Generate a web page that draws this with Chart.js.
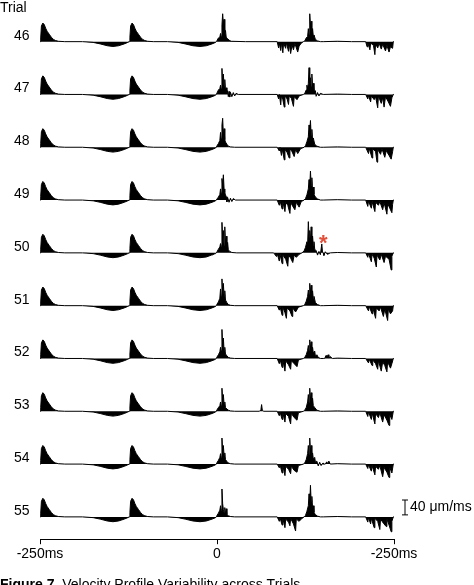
<!DOCTYPE html>
<html><head><meta charset="utf-8">
<script src="https://cdn.jsdelivr.net/npm/chart.js@4/dist/chart.umd.min.js"></script>
<style>html,body{margin:0;background:#fff}#w{width:474px;height:585px;position:relative}</style>
</head><body><div id="w"><canvas id="c"></canvas></div>
<script>
const trials = ["46","47","48","49","50","51","52","53","54","55"];
const xTickValues = [-250, 0, 250];
const xTickLabels = ["-250ms", "0", "-250ms"];
const trialSpacing = 142; // µm/ms between stacked baselines
// shared slow profile (ms, µm/ms)
const slowA = [[-250,0],[-249,10],[-248,42],[-246,50],[-244,46],[-242,36],[-240,28],[-237,20],[-234,12],[-231,6],[-228,3],[-224,1],[-215,0],[-190,0],[-175,-2],[-165,-6],[-155,-11],[-147,-13],[-139,-11],[-131,-6],[-126,-2],[-124,0],[-123,12],[-122,42],[-120,50],[-118,46],[-116,36],[-114,28],[-111,20],[-108,12],[-105,6],[-102,3],[-98,1],[-90,0],[-70,0],[-55,-2],[-45,-6],[-34,-11],[-24,-13],[-15,-11],[-7,-6],[-2,-2],[-1,0]];
const slowB = [[150,0],[170,1],[190,0],[210,0],[248,0],[250,0]];
const spikes46 = [[0,3],[2,10],[4,12],[5,22],[6,14],[7,45],[8,75],[9,50],[10,60],[11,25],[12,30],[13,12],[15,8],[17,4],[20,1],[40,0],[85,0],[87,-17],[88,-4],[90,-24],[91,-3],[93,-30],[94,-4],[97,-18],[98,-3],[101,-26],[102,-4],[104,-32],[106,-9],[108,-22],[110,-5],[114,-28],[116,-12],[119,-4],[122,0],[124,2],[126,10],[128,14],[129,35],[130,18],[131,75],[132,45],[133,55],[134,20],[135,35],[136,15],[137,18],[139,6],[142,2],[146,0]];
const spikesEnd46 = [[210,0],[212,-14],[213,-3],[216,-22],[217,-4],[221,-10],[223,-35],[224,-6],[227,-17],[229,-4],[232,-20],[234,-7],[238,-25],[240,-10],[243,-28],[245,-14],[248,-18],[249,0]];
const spikes47 = [[0,4],[2,12],[4,16],[5,25],[6,15],[7,70],[8,30],[9,55],[10,20],[11,40],[12,12],[13,18],[14,5],[15,10],[16,-6],[17,8],[18,-7],[19,6],[21,-6],[23,5],[25,-4],[27,3],[30,0],[85,0],[87,-12],[88,0],[90,-28],[91,-4],[93,-14],[95,-34],[96,-4],[99,-12],[101,-27],[102,-4],[105,-10],[108,-32],[109,-6],[113,-14],[116,-4],[122,0],[124,3],[126,12],[127,25],[128,15],[129,30],[130,72],[131,30],[132,45],[133,20],[134,55],[135,22],[136,30],[137,12],[139,10],[140,-5],[142,5],[144,-4],[146,3],[150,0]];
const spikesEnd47 = [[210,0],[213,-12],[214,-3],[217,-20],[218,-4],[222,-14],[224,-6],[227,-36],[228,-4],[232,-24],[234,-9],[236,-34],[238,-6],[242,-20],[245,-32],[247,-9],[249,0]];
const spikes48 = [[0,4],[2,10],[4,18],[5,40],[6,22],[7,60],[8,78],[9,35],[10,50],[11,20],[12,14],[14,8],[16,3],[19,1],[25,0],[85,0],[88,-10],[89,0],[91,-22],[92,-4],[95,-34],[96,-6],[99,-14],[102,-29],[103,-4],[106,-12],[109,-25],[111,-6],[114,-17],[118,-4],[123,0],[125,4],[127,15],[129,28],[130,60],[131,40],[132,72],[133,30],[134,48],[135,20],[136,25],[138,8],[141,3],[146,0]];
const spikesEnd48 = [[210,0],[214,-17],[215,-3],[219,-29],[220,-4],[224,-12],[226,-40],[227,-6],[231,-19],[233,-4],[237,-27],[239,-9],[243,-22],[246,-32],[248,-12],[249,0]];
const spikes49 = [[0,3],[2,8],[4,15],[5,30],[6,18],[7,58],[8,40],[9,68],[10,30],[11,20],[12,14],[13,9],[14,-5],[15,7],[17,-6],[19,5],[21,-4],[23,4],[26,0],[85,0],[88,-14],[89,-2],[92,-24],[93,-4],[96,-31],[97,-6],[100,-14],[103,-36],[104,-6],[107,-17],[110,-26],[112,-6],[116,-19],[119,-4],[123,0],[125,4],[127,14],[129,30],[130,55],[131,35],[132,78],[133,40],[134,60],[135,25],[136,35],[137,15],[139,8],[142,3],[146,0]];
const spikesEnd49 = [[210,0],[213,-17],[214,-3],[218,-22],[219,-4],[223,-31],[224,-6],[228,-14],[230,-4],[234,-26],[236,-7],[240,-38],[241,-9],[244,-22],[247,-34],[248,-12],[249,0]];
const spikes50 = [[-8,-6],[-4,-3],[0,3],[2,10],[4,16],[5,25],[6,18],[7,82],[8,40],[9,60],[10,20],[11,70],[12,25],[13,45],[14,12],[15,28],[16,8],[18,4],[21,1],[28,0],[80,0],[84,-10],[85,-2],[88,-22],[89,-4],[92,-29],[93,-6],[97,-17],[100,-36],[101,-6],[104,-14],[107,-26],[109,-6],[112,-12],[116,-4],[120,0],[123,5],[125,15],[127,30],[128,20],[129,84],[130,40],[131,60],[132,30],[133,70],[134,30],[135,45],[136,20],[137,30],[138,10],[140,6],[142,-6],[144,4],[146,-5],[148,24],[149,2],[151,-7],[153,3],[156,-4],[160,0]];
const spikesEnd50 = [[210,0],[213,-12],[214,-2],[218,-24],[219,-4],[222,-14],[225,-38],[226,-6],[230,-19],[232,-4],[236,-26],[238,-9],[243,-17],[246,-46],[247,-9],[249,0]];
const spikes51 = [[0,4],[2,10],[4,20],[5,45],[6,25],[7,72],[8,38],[9,60],[10,25],[11,40],[12,15],[14,8],[16,3],[19,1],[25,0],[85,0],[88,-12],[89,-2],[92,-26],[93,-4],[96,-19],[98,-34],[99,-6],[103,-14],[106,-29],[107,-6],[111,-17],[115,-4],[122,0],[124,3],[126,12],[128,25],[129,42],[130,30],[131,60],[132,35],[133,55],[134,25],[135,40],[136,18],[137,25],[139,8],[142,3],[146,0]];
const spikesEnd51 = [[210,0],[214,-14],[215,-2],[219,-22],[220,-4],[224,-34],[225,-6],[229,-14],[231,-4],[235,-29],[237,-9],[241,-40],[242,-9],[245,-22],[248,-14],[249,0]];
const spikes52 = [[0,4],[2,10],[4,18],[5,30],[6,20],[7,78],[8,35],[9,55],[10,20],[11,30],[12,12],[14,7],[16,3],[19,1],[25,0],[85,0],[88,-14],[89,-2],[92,-24],[93,-4],[96,-34],[97,-6],[101,-17],[104,-29],[105,-6],[109,-14],[113,-22],[115,-4],[122,0],[124,3],[126,10],[128,22],[129,35],[130,20],[131,50],[132,28],[133,45],[134,20],[135,30],[136,15],[138,20],[139,6],[141,10],[143,3],[146,0],[152,0],[154,8],[155,2],[157,10],[158,2],[160,5],[163,0]];
const spikesEnd52 = [[210,0],[214,-12],[215,-2],[219,-19],[220,-4],[224,-14],[227,-29],[228,-6],[232,-34],[234,-9],[237,-19],[240,-36],[241,-9],[245,-26],[247,-14],[249,0]];
const spikes53 = [[0,4],[2,10],[4,15],[5,25],[6,15],[7,62],[8,30],[9,45],[10,18],[11,25],[12,10],[14,6],[16,3],[19,1],[25,0],[60,0],[62,4],[63,18],[64,3],[66,0],[85,0],[88,-12],[89,-2],[92,-22],[93,-4],[96,-29],[97,-6],[101,-14],[104,-34],[105,-6],[109,-17],[113,-24],[115,-4],[122,0],[124,3],[126,10],[128,25],[129,45],[130,22],[131,62],[132,30],[133,50],[134,25],[135,35],[136,15],[138,10],[141,3],[146,0]];
const spikesEnd53 = [[210,0],[213,-14],[214,-2],[218,-22],[219,-4],[223,-34],[224,-6],[228,-17],[230,-4],[234,-29],[236,-9],[240,-24],[243,-38],[244,-9],[247,-22],[249,0]];
const spikes54 = [[0,4],[2,10],[4,18],[5,28],[6,18],[7,70],[8,35],[9,50],[10,22],[11,30],[12,12],[14,7],[16,3],[19,1],[25,0],[85,0],[88,-10],[89,-2],[92,-24],[93,-4],[96,-31],[97,-6],[101,-14],[104,-26],[105,-6],[109,-17],[113,-22],[115,-4],[122,0],[124,3],[126,12],[128,28],[129,50],[130,25],[131,70],[132,35],[133,50],[134,22],[135,30],[136,14],[138,18],[139,5],[141,8],[143,-5],[145,5],[147,-4],[150,3],[153,0],[155,6],[156,1],[158,8],[160,0]];
const spikesEnd54 = [[210,0],[213,-12],[214,-2],[218,-19],[219,-4],[223,-29],[224,-6],[228,-14],[230,-4],[234,-34],[236,-9],[240,-22],[243,-36],[244,-9],[247,-24],[249,0]];
const spikes55 = [[0,4],[2,10],[4,18],[5,30],[6,18],[7,75],[8,35],[9,20],[10,12],[11,25],[12,8],[13,22],[14,6],[16,3],[19,1],[25,0],[85,0],[88,-12],[89,-2],[92,-22],[93,-4],[96,-29],[97,-6],[101,-14],[103,-24],[104,-4],[108,-19],[111,-38],[112,-6],[116,-12],[120,-4],[123,0],[125,4],[127,15],[129,30],[130,62],[131,35],[132,85],[133,40],[134,55],[135,25],[136,30],[137,12],[139,6],[142,2],[146,0]];
const spikesEnd55 = [[210,0],[213,-14],[214,-2],[217,-19],[218,-4],[222,-29],[223,-4],[227,-12],[230,-34],[231,-6],[235,-17],[239,-26],[240,-6],[243,-22],[246,-40],[247,-12],[249,0]];
const trialSpikes = [spikes46,spikes47,spikes48,spikes49,spikes50,spikes51,spikes52,spikes53,spikes54,spikes55];
const trialSpikesEnd = [spikesEnd46,spikesEnd47,spikesEnd48,spikesEnd49,spikesEnd50,spikesEnd51,spikesEnd52,spikesEnd53,spikesEnd54,spikesEnd55];

const datasets = trials.map((t,i)=>{
  const off = (trials.length-1-i)*trialSpacing;
  const pts = [...slowA, ...trialSpikes[i], ...slowB.slice(0,3), ...trialSpikesEnd[i], ...slowB.slice(5)]
    .sort((a,b)=>a[0]-b[0]).map(p=>({x:p[0], y:p[1]+off}));
  return {label:t, data:pts, borderColor:'#000', backgroundColor:'#000', borderWidth:1,
    pointRadius:0, tension:0, fill:{value:off}};
});

const deco = {id:'deco', afterDraw(ch){
  const c = ch.ctx, ys = ch.scales.y, xs = ch.scales.x;
  c.save(); c.fillStyle='#000'; c.font='14px "Liberation Sans", Arial'; c.textBaseline='middle';
  trials.forEach((t,i)=>{ c.textAlign='left'; c.fillText(t, 14, ys.getPixelForValue((trials.length-1-i)*trialSpacing)-6); });
  c.fillText('Trial', 0, 8);
  const bx = 405, b0 = ys.getPixelForValue(0)-2, b1 = ys.getPixelForValue(40)-2;
  c.lineWidth=1; c.strokeStyle='#000';
  c.beginPath(); c.moveTo(bx,b0); c.lineTo(bx,b1); c.moveTo(bx-3,b0); c.lineTo(bx+3,b0); c.moveTo(bx-3,b1); c.lineTo(bx+3,b1); c.stroke();
  c.fillText('40 \u03bcm/ms', bx+5, (b0+b1)/2);
  c.fillStyle='#e0503a'; c.font='bold 22px "Liberation Sans", Arial'; c.textAlign='center';
  c.fillText('*', xs.getPixelForValue(150), ys.getPixelForValue(5*trialSpacing+40)+6);
  c.fillStyle='#000'; c.textAlign='left'; c.textBaseline='alphabetic';
  c.font='bold 14px "Liberation Sans", Arial'; c.fillText('Figure 7.', 0, 589);
  const w = c.measureText('Figure 7. ').width;
  c.font='14px "Liberation Sans", Arial'; c.fillText('Velocity Profile Variability across Trials', w, 589);
  c.restore();
}};

new Chart(document.getElementById('c'), {
  type:'line', data:{datasets},
  options:{responsive:true, maintainAspectRatio:false, animation:false,
    layout:{padding:{left:40, right:80, top:0, bottom:20}},
    plugins:{legend:{display:false}, tooltip:{enabled:false}},
    scales:{
      x:{type:'linear', min:-250, max:250,
        afterBuildTicks:s=>{s.ticks = xTickValues.map(v=>({value:v}));},
        ticks:{callback:(v)=>xTickLabels[xTickValues.indexOf(v)], color:'#000', font:{size:14, family:'"Liberation Sans", Arial'}, maxRotation:0, padding:2},
        grid:{display:true, drawOnChartArea:false, tickLength:5, color:'#000'},
        border:{display:true, color:'#000', width:1}},
      y:{display:false, min:-60, max:9*trialSpacing+112}
    }}, plugins:[deco]});
</script></body></html>
